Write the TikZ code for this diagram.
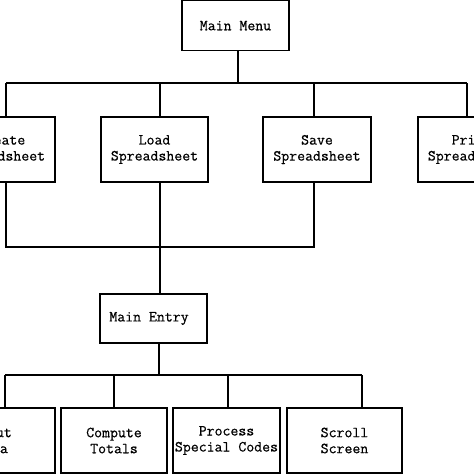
\documentclass[tikz,border=0pt]{standalone}
\usepackage{fontspec}
\newfontfamily\typofont[FakeBold=0.5]{Latin Modern Mono}
\begin{document}
\begin{tikzpicture}[x=1pt,y=-1pt,
  box/.style={draw, line width=1.1pt, rectangle, inner sep=0pt, align=center,
    font=\typofont\fontsize{15.4}{16}\selectfont},
  conn/.style={line width=1.1pt}]
\useasboundingbox (0,0) rectangle (474,474);
\clip (0,0) rectangle (474,474);
\fill[white] (0,0) rectangle (474,474);
% boxes
\node[box, minimum width=107pt, minimum height=50pt] (mm) at (235.5,25.6) {Main Menu};
\node[box, minimum width=107pt, minimum height=65pt] (create) at (1.5,149.5) {Create\\Spreadsheet};
\node[box, minimum width=107pt, minimum height=65pt] (load) at (154.5,149.5) {Load\\Spreadsheet};
\node[box, minimum width=108pt, minimum height=65pt] (save) at (317,149.5) {Save\\Spreadsheet};
\node[box, minimum width=107pt, minimum height=65pt] (print) at (471.5,149.5) {Print\\Spreadsheet};
\node[box, minimum width=107pt, minimum height=49pt] (mentry) at (153.5,318.5) {Main Entry\hspace*{9pt}};
\node[box, minimum width=126pt, minimum height=65pt] (input) at (-8,440.5) {Input\\Data};
\node[box, minimum width=106pt, minimum height=65pt] (compute) at (114,440.5) {Compute\\Totals};
\node[box, minimum width=107pt, minimum height=65pt] (process) at (226.5,440.5) {Process\\Special Codes};
\node[box, minimum width=115pt, minimum height=65pt] (scroll) at (344.5,440.5) {Scroll\\Screen};
% top bus
\coordinate (t0) at (238,83);
\coordinate (t1) at (6,83);
\coordinate (t2) at (160,83);
\coordinate (t3) at (314,83);
\coordinate (t4) at (467,83);
\draw[conn] (t0 |- mm.south) -- (t0);
\draw[conn] (t1) -- (t4);
\foreach \n/\b in {t1/create,t2/load,t3/save,t4/print}
  \draw[conn] (\n) -- (\n |- \b.north);
% middle join
\coordinate (m1) at (6,247);
\coordinate (m2) at (160,247);
\coordinate (m3) at (314,247);
\draw[conn] (m1 |- create.south) -- (m1) -- (m3) -- (m3 |- save.south);
\draw[conn] (m2 |- load.south) -- (m2 |- mentry.north);
% bottom bus
\coordinate (b0) at (159,375);
\coordinate (b1) at (5,375);
\coordinate (b2) at (114,375);
\coordinate (b3) at (228,375);
\coordinate (b4) at (362,375);
\draw[conn] (b0 |- mentry.south) -- (b0);
\draw[conn] (b1) -- (b4);
\foreach \n/\b in {b1/input,b2/compute,b3/process,b4/scroll}
  \draw[conn] (\n) -- (\n |- \b.north);
\end{tikzpicture}
\end{document}
